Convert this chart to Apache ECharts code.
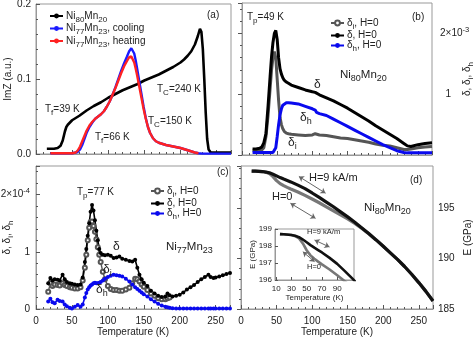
<!DOCTYPE html>
<html><head><meta charset="utf-8">
<script src="https://cdn.jsdelivr.net/npm/echarts@6/dist/echarts.min.js"></script>
<style>html,body{margin:0;padding:0;background:#fff}#c{width:474px;height:339px}</style>
</head><body><div id="c"></div>
<script>
// ---------- Panel (a): ImZ ----------
const T_A80 = [15,20,25,30,34,37,40,42,44,47,50,60,70,80,90,100,110,120,130,140,150,160,170,180,190,200,205,210,215,220,224,227,229,231,233,235,237,239,242,250,260,270];
const IMZ_80 = [0.007,0.007,0.007,0.008,0.011,0.018,0.030,0.036,0.039,0.042,0.045,0.051,0.058,0.064,0.069,0.075,0.080,0.085,0.089,0.093,0.098,0.102,0.106,0.111,0.116,0.122,0.126,0.131,0.137,0.146,0.157,0.167,0.163,0.140,0.100,0.055,0.020,0.006,0.002,0.002,0.002,0.002];
const T_A77 = [20,30,40,50,55,58,61,64,67,70,74,78,82,86,90,94,98,102,106,110,114,118,122,126,129,132,134,136,138,140,143,146,149,152,155,158,162,166,170,180,190,200,210,220,225,230,240,250,260,270];
const IMZ_77_COOL = [0.001,0.001,0.001,0.001,0.002,0.003,0.006,0.012,0.020,0.028,0.036,0.042,0.047,0.050,0.053,0.057,0.063,0.070,0.079,0.089,0.100,0.111,0.121,0.130,0.137,0.141,0.140,0.134,0.125,0.114,0.097,0.080,0.063,0.048,0.036,0.028,0.021,0.017,0.015,0.012,0.010,0.008,0.005,0.002,0.001,0.0005,0.0005,0.0005,0.0005,0.0005];
const IMZ_77_HEAT = [0.001,0.001,0.001,0.001,0.002,0.005,0.010,0.017,0.024,0.031,0.038,0.043,0.047,0.050,0.053,0.057,0.063,0.070,0.079,0.088,0.098,0.108,0.117,0.124,0.129,0.130,0.128,0.122,0.114,0.105,0.090,0.075,0.060,0.047,0.036,0.028,0.021,0.017,0.015,0.012,0.010,0.008,0.005,0.002,0.001,null,null,null,null,null];

// ---------- Panel (b): Ni80Mn20 damping (units 1e-3) ----------
const T_B = [15,20,25,28,31,34,37,40,42,44,46,48,50,52,54,56,58,60,63,66,70,80,90,100,104,106,110,120,130,140,150,160,170,180,190,200,210,220,230,235,240,250,260,270];
const B_DELTA = [0.10,0.10,0.11,0.13,0.20,0.35,0.80,1.30,1.62,1.85,2.00,2.05,1.90,1.60,1.42,1.33,1.27,1.23,1.20,1.18,1.15,1.11,1.07,1.04,1.03,1.01,0.99,0.94,0.89,0.83,0.77,0.70,0.63,0.56,0.48,0.41,0.34,0.27,0.19,0.15,0.14,0.17,0.19,0.20];
const B_DELTA_I = [0.07,0.07,0.07,0.08,0.12,0.30,0.65,1.10,1.40,1.60,1.70,1.60,1.25,0.90,0.62,0.50,0.43,0.39,0.36,0.35,0.34,0.33,0.32,0.33,0.35,0.34,0.33,0.32,0.30,0.28,0.27,0.25,0.23,0.21,0.18,0.16,0.15,0.12,0.09,0.09,0.10,0.12,0.13,0.14];
const B_DELTA_H = [0.04,0.04,0.04,0.04,0.04,0.04,0.04,0.04,0.04,0.04,0.05,0.12,0.30,0.50,0.66,0.76,0.82,0.85,0.86,0.86,0.855,0.84,0.80,0.76,0.74,0.70,0.68,0.65,0.59,0.53,0.47,0.41,0.35,0.29,0.23,0.17,0.12,0.07,0.04,0.035,0.035,0.035,0.035,0.035];

// ---------- Panel (c): Ni77Mn23 damping (units 1e-4) ----------
const T_C = [17,20,23,26,30,33,37,40,43,47,50,54,58,62,65,68,70,72,74,76,78,80,82,84,86,88,90,93,96,100,104,108,112,116,120,125,130,134,138,141,144,147,150,155,160,165,170,175,180,183,186,190,195,200,205,210,215,220,225,230,235,240,243,247,250,255,260,265,270];
const C_DELTA = [0.45,0.54,0.50,0.52,0.51,0.50,0.60,0.52,0.47,0.45,0.44,0.43,0.42,0.43,0.55,0.82,1.05,1.28,1.50,1.70,1.82,1.72,1.55,1.37,1.20,1.05,0.98,0.95,0.94,0.95,0.93,0.89,0.90,0.92,0.88,0.86,0.84,0.83,0.86,0.72,0.60,0.52,0.46,0.40,0.32,0.27,0.23,0.21,0.22,0.27,0.24,0.22,0.23,0.25,0.29,0.34,0.38,0.42,0.47,0.52,0.56,0.60,0.56,0.54,0.55,0.57,0.59,0.61,0.63];
const C_DELTA_I = [0.30,0.45,0.40,0.43,0.42,0.41,0.45,0.42,0.40,0.38,0.37,0.36,0.36,0.38,0.50,0.72,0.95,1.20,1.42,1.52,1.53,1.45,1.35,1.22,1.08,0.95,0.82,0.65,0.52,0.40,0.35,0.33,0.33,0.32,0.32,0.34,0.37,0.45,0.53,0.52,0.48,0.43,0.39,0.33,0.27,0.23,0.19,0.17,0.17,0.19,0.20,null,null,null,null,null,null,null,null,null,null,null,null,null,null,null,null,null,null];
const C_DELTA_H = [0.13,0.18,0.12,0.10,0.16,0.14,0.13,0.08,0.05,0.02,0.01,0.04,0.07,0.04,0.08,0.20,0.28,0.34,0.38,0.41,0.43,0.45,0.46,0.45,0.45,0.46,0.47,0.50,0.53,0.56,0.58,0.60,0.59,0.58,0.57,0.53,0.48,0.43,0.38,0.35,0.32,0.29,0.26,0.22,0.17,0.13,0.09,0.06,0.04,0.03,0.02,0.015,0.01,0.01,0.01,0.01,0.01,0.01,0.01,0.01,0.01,0.01,0.01,0.01,0.01,0.01,0.01,0.01,0.01];

// ---------- Panel (d): Young's modulus (GPa) ----------
const T_D = [15,20,30,35,40,45,50,55,60,65,70,80,90,100,110,120,130,140,150,160,170,180,190,200,210,220,230,240,250,260,270];
const E_H9 = [198.70,198.69,198.65,198.60,198.52,198.38,198.22,198.05,197.90,197.76,197.62,197.30,196.95,196.52,196.08,195.62,195.15,194.65,194.15,193.62,193.05,192.47,191.86,191.23,190.58,189.92,189.22,188.45,187.62,186.75,185.80];
const E_H0 = [198.70,198.69,198.65,198.58,198.45,198.15,197.75,197.45,197.25,197.08,196.92,196.62,196.28,195.92,195.55,195.15,194.75,194.35,193.95,193.50,193.00,192.45,191.86,191.23,190.58,189.92,189.22,188.45,187.62,186.75,185.80];

const X_MAJOR = 50;
const INSET_X_LABELS = [10,30,50,70,90];

const FONT = 'Liberation Sans, Arial, Helvetica, sans-serif';
const TXT = '#222';
const GRAY = '#999';
const FS = 10;
const pair = (xs, ys) => xs.map((x, i) => [x, ys[i]]);

const LEG_NAMES = {
  a1: '{n|Ni}{s|80}{n|Mn}{s|20}',
  a2: '{n|Ni}{s|77}{n|Mn}{s|23}{n|, cooling}',
  a3: '{n|Ni}{s|77}{n|Mn}{s|23}{n|, heating}',
  b1: '{n|δ, H=0}', b2: '{n|δ}{s|i}{n|, H=0}', b3: '{n|δ}{s|h}{n|, H=0}',
  c1: '{n|δ, H=0}', c2: '{n|δ}{s|i}{n|, H=0}', c3: '{n|δ}{s|h}{n|, H=0}'
};
const richEC = (fs) => ({
  n: {fontSize: fs, lineHeight: fs + 5, fontFamily: FONT, color: TXT},
  s: {fontSize: Math.round(fs * 0.75), lineHeight: 9, verticalAlign: 'bottom', fontFamily: FONT, color: TXT},
  p: {fontSize: Math.round(fs * 0.75), lineHeight: 9, verticalAlign: 'top', fontFamily: FONT, color: TXT}
});

function xAx(grid, labels) {
  return {
    type: 'value', gridIndex: grid, min: 0, max: 270, interval: X_MAJOR,
    axisLine: {lineStyle: {color: GRAY}}, splitLine: {show: false},
    axisTick: {inside: true, length: 4, lineStyle: {color: '#555'}},
    minorTick: {show: true, splitNumber: 5, length: 2, lineStyle: {color: '#555'}},
    axisLabel: {show: labels, color: TXT, fontFamily: FONT, fontSize: FS, margin: 7,
      formatter: v => (v % 50 === 0 ? String(v) : '')},
    name: labels ? 'Temperature (K)' : '', nameLocation: 'middle', nameGap: 18, nameMoveOverlap: false,
    nameTextStyle: {color: TXT, fontFamily: FONT, fontSize: FS}
  };
}
function yAx(grid, o) {
  return Object.assign({
    type: 'value', gridIndex: grid,
    axisLine: {show: true, lineStyle: {color: GRAY}}, splitLine: {show: false},
    axisTick: {inside: true, length: 4, lineStyle: {color: '#555'}},
    minorTick: {show: true, splitNumber: 5, length: 2, lineStyle: {color: '#555'}},
    nameLocation: 'middle', nameRotate: 90, nameMoveOverlap: false,
    nameTextStyle: {color: TXT, fontFamily: FONT, fontSize: FS, rich: richEC(FS)}
  }, o);
}
function line(name, xi, data, color, width, extra) {
  return Object.assign({
    name, type: 'line', xAxisIndex: xi, yAxisIndex: xi, data,
    showSymbol: false, symbol: 'circle', symbolSize: 4,
    lineStyle: {color, width}, itemStyle: {color},
    clip: true, animation: false, silent: true, connectNulls: false
  }, extra || {});
}
function legend(left, top, names, gap) {
  return {
    left, top, orient: 'vertical', itemWidth: 13, itemHeight: 6, itemGap: gap,
    data: names, selectedMode: false,
    formatter: n => LEG_NAMES[n],
    textStyle: {color: TXT, fontFamily: FONT, fontSize: FS, padding: [0, 0, 0, -2], rich: richEC(FS)}
  };
}
function gtext(x, y, text, fs) {
  const f = fs || FS;
  const sf = Math.round(f * 0.75);
  return {
    type: 'text', x, y, z: 100, silent: true,
    style: {
      text, fill: TXT, font: f + 'px ' + FONT, verticalAlign: 'middle', textVerticalAlign: 'middle',
      rich: {
        n: {font: f + 'px ' + FONT, lineHeight: f + 5, fill: TXT},
        s: {font: sf + 'px ' + FONT, lineHeight: 9, verticalAlign: 'bottom', fill: TXT},
        p: {font: sf + 'px ' + FONT, lineHeight: 9, verticalAlign: 'top', fill: TXT}
      }
    }
  };
}
const arrowML = (pairs) => ({
  silent: true, symbol: ['arrow', 'arrow'], symbolSize: 5,
  label: {show: false}, lineStyle: {color: '#666', width: 1, type: 'solid'},
  data: pairs.map(p => [{coord: p[0]}, {coord: p[1]}]), animation: false
});
const G = {show: true, borderColor: GRAY, borderWidth: 1, outerBoundsMode: 'none', containLabel: false};
const SUPLBL = {
  n: {fontSize: 10, lineHeight: 15, fontFamily: FONT, color: TXT},
  p: {fontSize: 7.5, lineHeight: 9, verticalAlign: 'top', fontFamily: FONT, color: TXT}
};

const option = {
  animation: false,
  backgroundColor: '#fff',
  grid: [
    Object.assign({left: 36, top: 4, width: 195, height: 150}, G),
    Object.assign({left: 242, top: 3, width: 190, height: 152}, G),
    Object.assign({left: 36, top: 166, width: 194, height: 143}, G),
    Object.assign({left: 241, top: 166, width: 192, height: 143}, G),
    Object.assign({left: 275, top: 229, width: 79, height: 51, backgroundColor: '#fff'}, G)
  ],
  xAxis: [
    xAx(0, false), xAx(1, false), xAx(2, true), xAx(3, true),
    {type: 'value', gridIndex: 4, min: 8.5, max: 112,
     axisLine: {lineStyle: {color: GRAY}}, splitLine: {show: false},
     axisTick: {inside: true, length: 3, customValues: INSET_X_LABELS, lineStyle: {color: '#555'}},
     minorTick: {show: false},
     axisLabel: {customValues: INSET_X_LABELS, color: TXT, fontFamily: FONT, fontSize: 8, margin: 5},
     name: 'Temperature (K)', nameLocation: 'middle', nameGap: 14, nameMoveOverlap: false,
     nameTextStyle: {color: TXT, fontFamily: FONT, fontSize: 8}}
  ],
  yAxis: [
    yAx(0, {min: 0, max: 0.2, interval: 0.1, name: 'ImZ (a.u.)', nameGap: 23,
      axisLabel: {color: TXT, fontFamily: FONT, fontSize: FS, margin: 5, formatter: v => v.toFixed(1)}}),
    yAx(1, {position: 'right', min: 0, max: 2.5, interval: 1, nameGap: 28,
      name: '{n|δ, δ}{s|i}{n|, δ}{s|h}',
      axisLabel: {color: TXT, fontFamily: FONT, fontSize: FS, margin: 8, rich: SUPLBL,
        formatter: v => v === 2 ? '{n|2×10}{p|-3}' : (v === 1 ? '{n|  1}' : '')}}),
    yAx(2, {min: 0, max: 2.5, interval: 1, nameGap: 21,
      name: '{n|δ, δ}{s|i}{n|, δ}{s|h}',
      axisLabel: {color: TXT, fontFamily: FONT, fontSize: FS, margin: 6, rich: SUPLBL,
        formatter: v => v === 2 ? '{n|2×10}{p|-4}' : (v === 1 ? '{n|1}' : (v === 0 ? '{n|0}' : ''))}}),
    yAx(3, {position: 'right', min: 185, max: 199.2, interval: 5, nameGap: 30, name: 'E (GPa)',
      axisLabel: {color: TXT, fontFamily: FONT, fontSize: FS, margin: 5,
        formatter: v => (v % 5 === 0 ? String(v) : '')}}),
    yAx(4, {min: 196, max: 199, interval: 1, nameGap: 18, name: 'E (GPa)',
      minorTick: {show: false},
      axisTick: {inside: true, length: 3, lineStyle: {color: '#555'}},
      nameTextStyle: {color: TXT, fontFamily: FONT, fontSize: 8},
      axisLabel: {color: TXT, fontFamily: FONT, fontSize: 8, margin: 3}})
  ],
  legend: [
    legend(44, 6, ['a1', 'a2', 'a3'], 0),
    legend(325, 13, ['b2', 'b1', 'b3'], 0),
    legend(145, 181, ['c2', 'c1', 'c3'], 0)
  ],
  series: [
    line('a1', 0, pair(T_A80, IMZ_80), '#000', 2.6),
    line('a2', 0, pair(T_A77, IMZ_77_COOL), '#1a1aff', 2.4),
    line('a3', 0, pair(T_A77, IMZ_77_HEAT), '#ff2222', 2.4),
    line('b2', 1, pair(T_B, B_DELTA_I), '#555', 3, {symbol: 'emptyCircle'}),
    line('b1', 1, pair(T_B, B_DELTA), '#000', 3),
    line('b3', 1, pair(T_B, B_DELTA_H), '#0a0aee', 3),
    line('c2', 2, pair(T_C, C_DELTA_I), '#555', 1.4, {symbol: 'emptyCircle', showSymbol: true, symbolSize: 4}),
    line('c1', 2, pair(T_C, C_DELTA), '#000', 1.6, {showSymbol: true, symbolSize: 4}),
    line('c3', 2, pair(T_C, C_DELTA_H), '#0a0aee', 1.6, {showSymbol: true, symbolSize: 4}),
    line('H=0', 3, pair(T_D, E_H0), '#777', 3.2),
    line('H=9 kA/m', 3, pair(T_D, E_H9), '#111', 3.2, {
      markLine: arrowML([[[81.4, 198.16], [118.9, 196.5]], [[69.5, 195.5], [104.8, 194.0]]])}),
    line('H=0 inset', 4, pair(T_D, E_H0), '#777', 2.6),
    line('H=9 inset', 4, pair(T_D, E_H9), '#111', 2.6, {
      markLine: arrowML([[[60.3, 198.35], [79.9, 197.94]], [[45, 197.66], [60.3, 197.08]]])})
  ],
  graphic: [
    gtext(45, 109, '{n|T}{s|f}{n|=39 K}'),
    gtext(95, 137, '{n|T}{s|f}{n|=66 K}'),
    gtext(157, 89, '{n|T}{s|C}{n|=240 K}'),
    gtext(148, 121, '{n|T}{s|C}{n|=150 K}'),
    gtext(207, 15, '{n|(a)}'),
    gtext(247, 17, '{n|T}{s|p}{n|=49 K}'),
    gtext(412, 17, '{n|(b)}'),
    gtext(340, 75, '{n|Ni}{s|80}{n|Mn}{s|20}', 11.5),
    gtext(314, 85, '{n|δ}', 12),
    gtext(300, 118, '{n|δ}{s|h}', 12),
    gtext(288, 143, '{n|δ}{s|i}', 12),
    gtext(77, 192, '{n|T}{s|p}{n|=77 K}'),
    gtext(217, 172, '{n|(c)}'),
    gtext(113, 247, '{n|δ}', 12),
    gtext(166, 247, '{n|Ni}{s|77}{n|Mn}{s|23}', 11.5),
    gtext(103, 270, '{n|δ}{s|i}', 12),
    gtext(96, 290, '{n|δ}{s|h}', 12),
    gtext(410, 180, '{n|(d)}'),
    gtext(364, 208, '{n|Ni}{s|80}{n|Mn}{s|20}', 11.5),
    gtext(309, 178, '{n|H=9 kA/m}', 11),
    gtext(272, 197, '{n|H=0}', 11),
    gtext(307, 232, '{n|H=9 kA/m}', 7.5),
    gtext(307, 267, '{n|H=0}', 7.5)
  ]
};
const chart = echarts.init(document.getElementById('c'), null, {renderer: 'canvas'});
chart.setOption(option);
</script></body></html>
